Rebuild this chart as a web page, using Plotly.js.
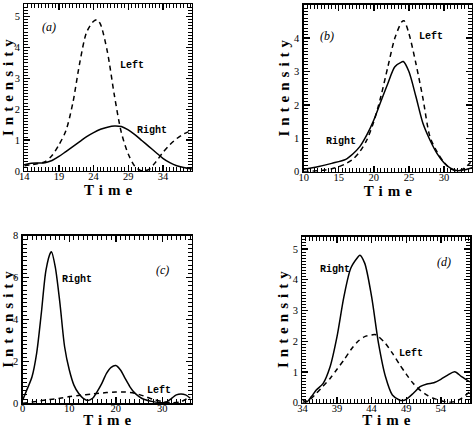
<!DOCTYPE html>
<html>
<head>
<meta charset="utf-8">
<script src="https://cdn.plot.ly/plotly-3.0.1.min.js"></script>
<style>html,body{margin:0;padding:0;background:#fff;}#chart{width:474px;height:428px;}</style>
</head>
<body>
<div id="chart"></div>
<script>
// Panel (a)
var timeA_left  = [14,15,16,17,18,19,20,21,22,23,24,24.5,25,26,27,28,29,30,31,32,33,34,35,36,37,38.2];
var leftA       = [0.17,0.2,0.24,0.3,0.5,0.85,1.3,2.2,3.5,4.5,4.85,4.9,4.75,3.85,2.45,1.25,0.55,0.14,0.0,0.05,0.3,0.6,0.85,1.05,1.2,1.32];
var timeA_right = [14,15,16,17,18,19,20,21,22,23,24,25,26,27,28,29,30,31,32,33,34,35,36,37,38.2];
var rightA      = [0.2,0.25,0.26,0.27,0.34,0.47,0.63,0.79,0.95,1.11,1.24,1.35,1.42,1.46,1.44,1.33,1.17,0.98,0.79,0.6,0.41,0.27,0.17,0.11,0.06];
// Panel (b)
var timeB_left  = [10,11,12,13,14,15,16,17,18,19,20,21,22,23,24,24.3,25,26,27,28,29,30,31,32,33,34];
var leftB       = [0,0.01,0.03,0.05,0.09,0.15,0.24,0.37,0.6,0.95,1.5,2.25,3.14,4.0,4.49,4.52,4.14,3.24,2.2,1.05,0.6,0.28,0.08,0.02,0.12,0.33];
var timeB_right = [10,12,14,16,17,18,19,20,21,22,23,24,24.2,25,26,27,28,29,30,31,32,33,34];
var rightB      = [0.07,0.15,0.25,0.37,0.53,0.75,1.1,1.55,2.1,2.64,3.14,3.29,3.3,3.0,2.25,1.45,0.95,0.55,0.27,0.1,0.03,0.06,0.12];
// Panel (c)
var timeC_right = [0,1,2,3,4,5,6,6.2,7,8,9,10,11,12,13,14,15,16,17,18,19,20,21,22,23,24,25,26,28,30,31,32,33,34,35,36];
var rightC      = [0.16,0.7,1.27,2.4,4.3,6.36,7.2,7.23,6.5,4.77,2.7,1.6,0.87,0.48,0.24,0.13,0.24,0.56,0.95,1.43,1.72,1.8,1.59,1.19,0.8,0.51,0.32,0.19,0.08,0.03,0.08,0.24,0.4,0.45,0.4,0.24];
var timeC_left  = [0,2,5,8,10,12,15,18,20,22,24,26,28,30,32,34,36];
var leftC       = [0,0.06,0.16,0.24,0.32,0.37,0.45,0.51,0.54,0.54,0.48,0.35,0.19,0.08,0.03,0.08,0.32];
// Panel (d)
var timeD_right = [34,34.6,35.3,36,37,38,39,40,41,42,42.3,43,44,45,46,47,48,48.5,49,50,51,52,53,54,55,56,57,58.2];
var rightD      = [0.1,0.02,0.2,0.41,0.63,1.17,2.15,3.45,4.38,4.73,4.8,4.54,3.45,1.93,0.85,0.25,0.09,0.07,0.11,0.3,0.52,0.61,0.65,0.76,0.9,1.01,0.85,0.68];
var timeD_left  = [34,35,36,37,38,39,40,41,42,43,44,44.5,45,46,47,48,49,50,51,52,53,54,55,56,57,58.2];
var leftD       = [0,0.09,0.3,0.54,0.79,1.09,1.39,1.72,1.99,2.15,2.2,2.22,2.15,1.93,1.61,1.26,0.93,0.63,0.41,0.25,0.14,0.07,0.02,0.03,0.14,0.36];

// Text labels
var panelTags = ["(a)","(b)","(c)","(d)"];
var seriesNames = ["Left","Right"];
var sp = " \u200A";
var xTitle = ["T","i","m","e"].join(sp);
var yTitle = ["I","n","t","e","n","s","i","t","y"].join(sp);

var lineSolid = {color:"#000", width:1.5, shape:"spline", smoothing:0.8};
var lineDash  = {color:"#000", width:1.5, shape:"spline", smoothing:0.8, dash:"5px,4px"};

function tr(x,y,ax,dashed,name){
  return {x:x, y:y, xaxis:"x"+ax, yaxis:"y"+ax, mode:"lines", name:name,
          line: dashed ? lineDash : lineSolid, hoverinfo:"skip", showlegend:false};
}
var data = [
  tr(timeA_left, leftA, "", true, "Left"),
  tr(timeA_right, rightA, "", false, "Right"),
  tr(timeB_left, leftB, "2", true, "Left"),
  tr(timeB_right, rightB, "2", false, "Right"),
  tr(timeC_left, leftC, "3", true, "Left"),
  tr(timeC_right, rightC, "3", false, "Right"),
  tr(timeD_left, leftD, "4", true, "Left"),
  tr(timeD_right, rightD, "4", false, "Right")
];

var tickFont = {family:"Liberation Serif, serif", size:10.5, color:"#000"};
var titleFont = {family:"Liberation Serif, serif", size:15, color:"#000", weight:"bold"};

function xa(domain, range, tick0, dtick, mdt, anchor){
  return {domain:domain, range:range, tick0:tick0, dtick:dtick, anchor:anchor,
    showline:true, linecolor:"#000", linewidth:1.3, mirror:"allticks",
    ticks:"inside", ticklen:6, tickwidth:1.4, tickcolor:"#000",
    minor:{ticks:"inside", ticklen:4, dtick:mdt, tick0:tick0, tickcolor:"#000", tickwidth:1, showgrid:false},
    showgrid:false, zeroline:false, tickfont:tickFont, ticklabelstandoff:-5,
    title:{text:xTitle, font:titleFont, standoff:1}, fixedrange:true};
}
function ya(domain, range, dtick, mdt, anchor){
  return {domain:domain, range:range, tick0:0, dtick:dtick, anchor:anchor,
    showline:true, linecolor:"#000", linewidth:1.3, mirror:"allticks",
    ticks:"inside", ticklen:6, tickwidth:1.4, tickcolor:"#000",
    minor:{ticks:"inside", ticklen:4, dtick:mdt, tick0:0, tickcolor:"#000", tickwidth:1, showgrid:false},
    showgrid:false, zeroline:false, tickfont:tickFont, ticklabelstandoff:1,
    title:{text:yTitle, font:titleFont, standoff:0}, fixedrange:true};
}

var labFont = {family:"Liberation Mono, monospace", size:10, color:"#000", weight:"bold"};
var tagFont = {family:"Liberation Serif, serif", size:12, color:"#000", style:"italic"};
function ann(text, x, y, ax, font){
  return {text:text, x:x, y:y, xref:"x"+ax, yref:"y"+ax, showarrow:false, font:font,
          xanchor:"center", yanchor:"middle"};
}

var layout = {
  width:474, height:428,
  margin:{l:0, r:0, t:0, b:0},
  paper_bgcolor:"#fff", plot_bgcolor:"#fff",
  showlegend:false,
  xaxis:  xa([0.0513,0.405], [14,38.2], 14, 5, 0.5, "y"),
  yaxis:  ya([0.6005,0.990], [0,5.4], 1, 0.1, "x"),
  xaxis2: xa([0.6407,0.9958], [10,34], 10, 5, 0.5, "y2"),
  yaxis2: ya([0.5988,0.989], [0,5], 1, 0.1, "x2"),
  xaxis3: xa([0.0479,0.4044], [0,36.3], 0, 10, 1, "y3"),
  yaxis3: ya([0.0577,0.4493], [0,8], 2, 0.2, "x3"),
  xaxis4: xa([0.638,0.992], [34,58.25], 34, 5, 0.5, "y4"),
  yaxis4: ya([0.0591,0.447], [0,5.4], 1, 0.1, "x4"),
  annotations: [
    ann(panelTags[0], 17.56, 4.68, "", tagFont),
    ann(seriesNames[0], 29.5, 3.41, "", labFont),
    ann(seriesNames[1], 32.4, 1.3, "", labFont),
    ann(panelTags[1], 13.3, 4.06, "2", tagFont),
    ann(seriesNames[0], 28.2, 4.06, "2", labFont),
    ann(seriesNames[1], 15.3, 0.89, "2", labFont),
    ann(panelTags[2], 30.1, 6.36, "3", tagFont),
    ann(seriesNames[1], 11.65, 5.89, "3", labFont),
    ann(seriesNames[0], 29.2, 0.63, "3", labFont),
    ann(panelTags[3], 54.4, 4.59, "4", tagFont),
    ann(seriesNames[1], 38.75, 4.32, "4", labFont),
    ann(seriesNames[0], 49.7, 1.59, "4", labFont)
  ]
};

Plotly.newPlot("chart", data, layout, {staticPlot:true, displayModeBar:false});
</script>
</body>
</html>
